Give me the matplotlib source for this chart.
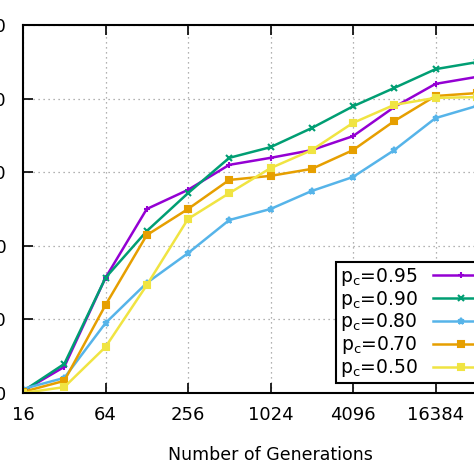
import matplotlib
matplotlib.use("Agg")
import matplotlib.pyplot as plt

generations = [16, 32, 64, 128, 256, 512, 1024, 2048, 4096, 8192, 16384, 32768]
pc095 = [0.5, 7.1, 31.3, 50.0, 55.2, 62.0, 63.9, 66.0, 69.8, 77.7, 84.0, 85.9]
pc090 = [0.5, 7.9, 31.3, 44.0, 54.3, 63.9, 66.8, 72.0, 77.9, 82.9, 88.0, 89.9]
pc080 = [1.1, 4.1, 19.0, 29.9, 38.0, 47.0, 50.0, 54.9, 58.7, 66.0, 74.7, 78.0]
pc070 = [0.3, 3.3, 23.9, 42.9, 50.0, 57.9, 59.0, 60.9, 66.0, 73.9, 80.7, 81.5]
pc050 = [0.0, 1.6, 12.5, 29.3, 47.3, 54.3, 61.1, 66.0, 73.4, 78.3, 80.2, 80.4]
labels = ["p$_\\mathrm{c}$=0.95", "p$_\\mathrm{c}$=0.90", "p$_\\mathrm{c}$=0.80",
          "p$_\\mathrm{c}$=0.70", "p$_\\mathrm{c}$=0.50"]
xticks = [16, 64, 256, 1024, 4096, 16384, 65536]
yticks = [0, 20, 40, 60, 80, 100]

W = 474
fig = plt.figure(figsize=(4.74, 4.74), dpi=100)
ax = fig.add_axes([23/W, 1-393/W, 495/W, 368/W])

series = [pc095, pc090, pc080, pc070, pc050]
colors = ["#9400d3", "#009e73", "#56b4e9", "#e69f00", "#f0e442"]
markers = ["+", "x", "*", "s", "s"]
for s, c, m, l in zip(series, colors, markers, labels):
    ax.plot(generations, s, color=c, marker=m, markersize=5, lw=1.8,
            markeredgewidth=1.5, label=l)

ax.set_xscale("log", base=2)
ax.set_xlim(16, 65536)
ax.set_ylim(0, 100)
ax.set_xticks(xticks)
ax.set_xticklabels([str(t) for t in xticks])
ax.minorticks_off()
ax.set_yticks(yticks)
ax.set_yticklabels([str(t) for t in yticks])
ax.tick_params(direction="in", length=7, width=1.2, labelsize=13, top=True, right=True)
ax.tick_params(axis="y", pad=12)
ax.tick_params(axis="x", pad=9)
ax.grid(True, linestyle=(0, (1, 3)), color="#999999", lw=0.9)
for sp in ax.spines.values():
    sp.set_linewidth(1.5)
ax.set_xlabel("Number of Generations", fontsize=12.5, labelpad=16)

leg = ax.legend(loc="lower left", bbox_to_anchor=(0.632, 0.027), borderaxespad=0,
                markerfirst=False, fontsize=13.5, frameon=True, fancybox=False,
                edgecolor="black", framealpha=1, handlelength=3,
                labelspacing=0.05, borderpad=0.2)
leg.get_frame().set_linewidth(1.5)

fig.savefig("out.png", dpi=100)
